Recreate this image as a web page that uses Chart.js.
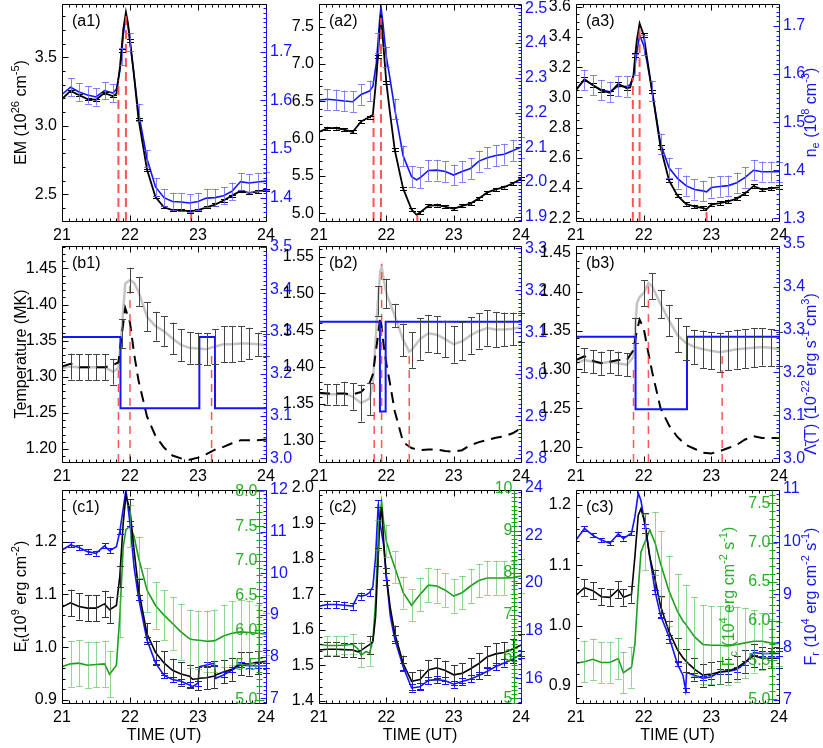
<!DOCTYPE html>
<html>
<head>
<meta charset="utf-8">
<script src="https://cdn.jsdelivr.net/npm/chart.js@4.4.1/dist/chart.umd.min.js"></script>
<style>
  body { margin: 0; background: #fff; }
  #wrap { position: relative; width: 823px; height: 748px; }
  #wrap canvas { position: absolute; left: 0; top: 0; }
</style>
</head>
<body>
<div id="wrap"></div>
<script>
// ---------- data (hours UT) ----------
const hours = [21, 22, 23, 24];

// (a1) EM and density
const a1Time = [21.0, 21.125, 21.25, 21.375, 21.5, 21.625, 21.75, 21.8, 21.85, 21.875, 21.9, 21.94, 21.97, 22.0, 22.05, 22.125, 22.25, 22.375, 22.5, 22.625, 22.75, 22.875, 23.0, 23.125, 23.25, 23.375, 23.5, 23.625, 23.75, 23.875, 24.0];
const a1EM = [3.195, 3.255, 3.225, 3.195, 3.19, 3.24, 3.215, 3.235, 3.42, 3.55, 3.70, 3.83, 3.75, 3.62, 3.41, 3.05, 2.68, 2.48, 2.405, 2.385, 2.385, 2.375, 2.385, 2.405, 2.425, 2.455, 2.49, 2.525, 2.51, 2.52, 2.53];
const a1EMErr = [null, .008, .008, .008, .008, .008, .008, null, null, .01, null, null, null, .01, null, .01, .008, .008, .008, .008, .008, .008, .008, .008, .008, .008, .008, .008, .008, .008, .008];
const a1Ne = [1.612, 1.627, 1.617, 1.611, 1.607, 1.62, 1.615, 1.623, 1.66, 1.69, 1.735, 1.771, 1.755, 1.72, 1.662, 1.575, 1.48, 1.422, 1.40, 1.392, 1.391, 1.389, 1.392, 1.399, 1.40, 1.404, 1.413, 1.433, 1.43, 1.432, 1.434];
const a1NeErr = [null, .018, .018, .018, .018, .018, .018, null, null, .018, null, null, null, .018, null, .018, .018, .018, .018, .018, .018, .018, .018, .018, .018, .018, .018, .018, .018, .018, .018];
const a1RedT = [21.83, 21.94, 22.9];
const a1RedTop = [3.33, 3.8, 2.37];

// (a2)
const a2Time = [21.0, 21.125, 21.25, 21.375, 21.5, 21.625, 21.75, 21.8, 21.85, 21.875, 21.9, 21.92, 21.95, 22.0, 22.05, 22.125, 22.25, 22.375, 22.45, 22.5, 22.625, 22.75, 22.875, 23.0, 23.125, 23.25, 23.375, 23.5, 23.625, 23.75, 23.875, 24.0];
const a2EM = [6.09, 6.14, 6.14, 6.12, 6.09, 6.23, 6.29, 6.32, 6.8, 7.1, 7.45, 7.66, 7.32, 6.75, 6.38, 5.85, 5.33, 5.05, 4.98, 5.01, 5.10, 5.11, 5.09, 5.06, 5.10, 5.13, 5.2, 5.28, 5.32, 5.35, 5.4, 5.46];
const a2EMErr = [null, .02, .02, .02, .02, .02, .02, null, null, .02, null, null, null, .02, null, .02, .02, .02, null, .02, .02, .02, .02, .02, .02, .02, .02, .02, .02, .02, .02, .02];
const a2Ne = [2.236, 2.238, 2.236, 2.233, 2.231, 2.252, 2.262, 2.275, 2.34, 2.40, 2.465, 2.505, 2.456, 2.36, 2.303, 2.21, 2.075, 2.015, 2.006, 2.012, 2.033, 2.034, 2.03, 2.02, 2.03, 2.039, 2.06, 2.07, 2.076, 2.08, 2.09, 2.10];
const a2NeErr = [null, .03, .03, .03, .03, .03, .03, null, null, .03, null, null, null, .03, null, .03, .03, .03, null, .03, .03, .03, .03, .03, .03, .03, .03, .03, .03, .03, .03, .03];
const a2RedT = [21.81, 21.92, 22.46];
const a2RedTop = [6.32, 7.62, 4.98];

// (a3)
const a3Time = [21.0, 21.125, 21.25, 21.375, 21.5, 21.625, 21.75, 21.8, 21.85, 21.875, 21.9, 21.94, 22.0, 22.05, 22.125, 22.25, 22.375, 22.5, 22.625, 22.75, 22.875, 22.93, 23.0, 23.125, 23.25, 23.375, 23.5, 23.625, 23.75, 23.875, 24.0];
const a3EM = [3.05, 3.12, 3.08, 3.045, 3.03, 3.09, 3.06, 3.066, 3.15, 3.28, 3.38, 3.49, 3.413, 3.26, 3.04, 2.67, 2.45, 2.35, 2.295, 2.278, 2.268, 2.26, 2.29, 2.30, 2.312, 2.33, 2.365, 2.414, 2.39, 2.398, 2.405];
const a3EMErr = [null, .012, .012, .012, .012, .012, .012, null, null, .012, null, null, .012, null, .012, .012, .012, .012, .012, .012, .012, null, .012, .012, .012, .012, .012, .012, .012, .012, .012];
const a3Ne = [1.567, 1.588, 1.577, 1.567, 1.563, 1.575, 1.574, 1.578, 1.595, 1.62, 1.645, 1.681, 1.66, 1.625, 1.565, 1.455, 1.405, 1.383, 1.368, 1.36, 1.357, 1.355, 1.364, 1.366, 1.368, 1.374, 1.385, 1.40, 1.397, 1.397, 1.397];
const a3NeErr = [null, .021, .021, .021, .021, .021, .021, null, null, .021, null, null, .021, null, .021, .021, .021, .021, .021, .021, .021, null, .021, .021, .021, .021, .021, .021, .021, .021, .021];
const a3RedT = [21.84, 21.94, 22.93];
const a3RedTop = [3.13, 3.47, 2.26];

// (b1) temperature and radiative loss function
const b1Time = [21.0, 21.125, 21.25, 21.375, 21.5, 21.625, 21.75, 21.83, 21.875, 21.93, 22.0, 22.06, 22.125, 22.25, 22.375, 22.5, 22.625, 22.75, 22.875, 23.0, 23.125, 23.25, 23.375, 23.5, 23.625, 23.75, 23.875, 24.0];
const b1TGray = [1.312, 1.314, 1.313, 1.313, 1.313, 1.313, 1.307, 1.312, 1.36, 1.429, 1.434, 1.43, 1.418, 1.383, 1.37, 1.363, 1.353, 1.344, 1.34, 1.339, 1.338, 1.342, 1.345, 1.345, 1.346, 1.346, 1.345, 1.344];
const b1TGrayErr = [null, .018, .018, .018, .018, .018, .018, null, .02, null, .017, null, .02, .02, .02, .021, .022, .022, .022, .022, .022, .024, .025, .025, .024, .022, .016, .015];
const b1TDash = [1.314, 1.318, 1.313, 1.313, 1.313, 1.313, 1.316, 1.32, 1.355, 1.395, 1.375, 1.332, 1.295, 1.245, 1.218, 1.202, 1.191, 1.187, 1.185, 1.188, 1.193, 1.199, 1.203, 1.208, 1.212, 1.212, 1.212, 1.213];
const b1LamT = [21, 21.86, 23.02, 23.25, 24];
const b1Lam = [3.287, 3.118, 3.287, 3.118, 3.118];
const b1RedT = [21.83, 22.0, 23.2];
const b1RedTop = [1.316, 1.432, 1.33];

// (b2)
const b2Time = [21.0, 21.125, 21.25, 21.375, 21.5, 21.625, 21.75, 21.8, 21.85, 21.875, 21.91, 21.93, 21.96, 22.0, 22.05, 22.125, 22.25, 22.34, 22.375, 22.5, 22.625, 22.75, 22.875, 23.0, 23.125, 23.25, 23.375, 23.5, 23.625, 23.75, 23.875, 24.0];
const b2TGray = [1.364, 1.363, 1.363, 1.364, 1.36, 1.351, 1.357, 1.378, 1.45, 1.49, 1.53, 1.536, 1.52, 1.50, 1.488, 1.47, 1.437, 1.421, 1.423, 1.438, 1.446, 1.444, 1.438, 1.431, 1.435, 1.443, 1.449, 1.453, 1.451, 1.451, 1.452, 1.454];
const b2TGrayErr = [null, .014, .014, .016, .018, .025, .022, null, null, .02, null, null, null, .02, null, .016, .022, null, .024, .028, .025, .025, .025, .025, .026, .025, .024, .024, .024, .023, .022, .02];
const b2TDash = [1.365, 1.364, 1.364, 1.364, 1.363, 1.366, 1.378, 1.39, 1.425, 1.442, 1.468, 1.455, 1.43, 1.405, 1.38, 1.34, 1.298, 1.292, 1.29, 1.287, 1.288, 1.288, 1.286, 1.285, 1.287, 1.294, 1.298, 1.301, 1.304, 1.306, 1.31, 1.317];
const b2LamT = [21, 21.905, 21.99, 24];
const b2Lam = [3.125, 2.911, 3.125, 3.125];
const b2RedT = [21.82, 21.93, 22.34];
const b2RedTop = [1.382, 1.54, 1.421];

// (b3)
const b3Time = [21.0, 21.125, 21.25, 21.375, 21.5, 21.625, 21.75, 21.85, 21.875, 21.9, 21.94, 22.0, 22.07, 22.125, 22.25, 22.375, 22.5, 22.625, 22.75, 22.875, 23.0, 23.125, 23.25, 23.375, 23.5, 23.625, 23.75, 23.875, 24.0];
const b3TGray = [1.308, 1.312, 1.31, 1.308, 1.31, 1.308, 1.306, 1.316, 1.35, 1.385, 1.393, 1.398, 1.411, 1.407, 1.384, 1.363, 1.344, 1.334, 1.329, 1.326, 1.324, 1.322, 1.324, 1.326, 1.327, 1.328, 1.329, 1.328, 1.326];
const b3TGrayErr = [null, .015, .015, .015, .015, .015, .015, null, .016, null, null, .017, null, .017, .018, .02, .022, .022, .022, .024, .024, .025, .025, .025, .025, .025, .024, .024, .022];
const b3TDash = [1.312, 1.317, 1.311, 1.308, 1.31, 1.312, 1.312, 1.325, 1.338, 1.35, 1.364, 1.353, 1.321, 1.297, 1.25, 1.228, 1.213, 1.203, 1.198, 1.193, 1.192, 1.195, 1.199, 1.203, 1.21, 1.214, 1.212, 1.212, 1.212];
const b3LamT = [21, 21.88, 22.64, 24];
const b3Lam = [3.283, 3.114, 3.283, 3.283];
const b3RedT = [21.85, 22.07, 23.16];
const b3RedTop = [1.306, 1.413, 1.32];

// (c1) thermal energy, conductive and radiative flux
const c1Time = [21.0, 21.125, 21.25, 21.375, 21.5, 21.625, 21.7, 21.8, 21.85, 21.9, 21.94, 22.0, 22.06, 22.125, 22.25, 22.375, 22.5, 22.625, 22.75, 22.875, 22.92, 23.0, 23.02, 23.125, 23.24, 23.26, 23.375, 23.5, 23.625, 23.75, 23.875, 24.0];
const c1Et = [1.076, 1.084, 1.077, 1.074, 1.074, 1.082, 1.071, 1.079, 1.134, 1.235, 1.288, 1.26, 1.184, 1.11, 1.025, 0.99, 0.97, 0.956, 0.949, 0.945, 0.939, 0.94, 0.941, 0.942, 0.945, 0.947, 0.953, 0.958, 0.969, 0.968, 0.971, 0.973];
const c1EtErr = [null, .025, .025, .025, .025, .025, .025, null, .02, null, null, .02, null, .02, .02, .022, .022, .022, .022, .022, null, .022, null, .022, .022, null, .022, .022, .022, .022, .022, .022];
const c1Fc = [5.48, 5.52, 5.53, 5.50, 5.51, 5.52, 5.37, 5.5, 6.2, 7.2, 7.45, 7.5, 7.35, 7.05, 6.58, 6.36, 6.22, 6.1, 5.98, 5.88, 5.87, 5.86, 5.86, 5.845, 5.85, 5.86, 5.92, 5.96, 5.98, 5.97, 5.96, 5.95];
const c1FcErr = [null, .33, .33, .33, .33, .33, .33, null, .3, null, null, .3, null, .3, .32, .34, .36, .38, .4, .42, null, .42, null, .44, .45, null, .45, .46, .46, .46, .4, .3];
const c1Fr = [10.56, 10.68, 10.62, 10.52, 10.48, 10.66, 10.54, 10.64, 11.0, 11.55, 12.0, 11.2, 10.15, 9.42, 8.40, 7.85, 7.55, 7.45, 7.41, 7.32, 7.28, 7.36, 7.76, 7.8, 7.84, 7.48, 7.56, 7.68, 7.80, 7.78, 7.78, 7.78];
const c1FrErr = [null, .06, .06, .06, .06, .06, .06, null, .06, null, null, .06, null, .06, .06, .06, .06, .06, .06, .06, null, .06, null, .06, .06, null, .06, .06, .06, .06, .06, .06];

// (c2)
const c2Time = [21.0, 21.125, 21.25, 21.375, 21.5, 21.58, 21.625, 21.7, 21.75, 21.8, 21.84, 21.88, 21.9, 21.93, 21.96, 22.0, 22.06, 22.125, 22.25, 22.375, 22.5, 22.625, 22.75, 22.875, 23.0, 23.125, 23.25, 23.375, 23.5, 23.625, 23.75, 23.875, 24.0];
const c2Et = [1.543, 1.545, 1.545, 1.544, 1.543, 1.538, 1.542, 1.552, 1.558, 1.566, 1.637, 1.806, 1.90, 1.945, 1.85, 1.75, 1.66, 1.59, 1.505, 1.455, 1.46, 1.487, 1.493, 1.485, 1.473, 1.477, 1.49, 1.505, 1.524, 1.532, 1.536, 1.545, 1.557];
const c2EtErr = [null, .02, .02, .02, .02, null, .022, null, .025, null, null, .025, null, null, null, .025, null, .022, .022, .025, .028, .028, .028, .028, .028, .028, .03, .03, .03, .03, .03, .03, .03];
const c2Fc = [6.29, 6.26, 6.26, 6.27, 6.29, 6.18, 6.03, 6.12, 6.08, 6.38, 7.3, 8.9, 9.3, 9.69, 9.2, 8.75, 8.43, 8.13, 7.52, 7.22, 7.48, 7.7, 7.68, 7.58, 7.44, 7.52, 7.68, 7.81, 7.87, 7.87, 7.87, 7.88, 7.92];
const c2FcErr = [null, .22, .22, .22, .24, null, .28, null, .3, null, null, .35, null, null, null, .38, null, .38, .38, .38, .4, .4, .4, .4, .4, .4, .4, .4, .4, .4, .4, .4, .4];
const c2Fr = [19.03, 19.1, 19.1, 19.07, 19.03, 19.49, 19.45, 19.5, 19.6, 19.84, 21.09, 23.33, 22.6, 22.1, 21.6, 20.26, 18.6, 17.65, 16.49, 15.6, 15.65, 15.92, 15.95, 15.9, 15.76, 15.87, 15.98, 16.12, 16.3, 16.5, 16.65, 16.8, 17.02];
const c2FrErr = [null, .15, .15, .15, .15, null, .15, null, .15, null, null, .15, null, null, null, .15, null, .15, .15, .15, .15, .15, .15, .15, .15, .15, .15, .15, .15, .15, .15, .15, .15];

// (c3)
const c3Time = [21.0, 21.125, 21.25, 21.375, 21.5, 21.625, 21.7, 21.82, 21.87, 21.92, 21.96, 22.02, 22.09, 22.17, 22.25, 22.375, 22.5, 22.58, 22.62, 22.635, 22.75, 22.875, 23.0, 23.125, 23.25, 23.375, 23.5, 23.625, 23.75, 23.875, 24.0];
const c3Et = [1.05, 1.063, 1.058, 1.048, 1.047, 1.06, 1.047, 1.052, 1.114, 1.183, 1.194, 1.17, 1.114, 1.076, 1.032, 0.99, 0.96, 0.947, 0.942, 0.94, 0.928, 0.918, 0.92, 0.923, 0.925, 0.93, 0.94, 0.95, 0.946, 0.946, 0.946];
const c3EtErr = [null, .014, .014, .014, .014, .014, .014, .014, null, null, null, .016, null, .017, .018, .018, .019, null, .019, null, .019, .019, .019, .019, .019, .019, .019, .019, .018, .017, .017];
const c3Fc = [5.46, 5.48, 5.51, 5.47, 5.47, 5.52, 5.34, 5.41, 5.7, 6.4, 6.88, 7.01, 7.16, 6.99, 6.73, 6.38, 6.12, 6.0, 5.96, 5.94, 5.8, 5.70, 5.69, 5.69, 5.68, 5.70, 5.72, 5.74, 5.74, 5.72, 5.71];
const c3FcErr = [null, .26, .26, .26, .26, .26, .26, .26, null, null, null, .36, null, .4, .42, .45, .48, null, .5, null, .5, .5, .5, .5, .5, .48, .45, .4, .36, .3, .28];
const c3Fr = [10.03, 10.25, 10.12, 10.03, 9.97, 10.15, 10.06, 10.16, 10.47, 10.92, 10.78, 10.3, 9.72, 9.05, 8.6, 8.2, 7.68, 7.47, 7.19, 7.52, 7.47, 7.41, 7.44, 7.54, 7.54, 7.58, 7.7, 7.9, 7.88, 7.88, 7.88];
const c3FrErr = [null, .04, .04, .04, .04, .04, .04, .04, null, null, null, .04, null, .04, .04, .04, .04, null, .04, null, .04, .04, .04, .04, .04, .04, .04, .04, .04, .04, .04];

// axis tick values
const a1EMTicks = [2.5, 3.0, 3.5], a1NeTicks = [1.4, 1.5, 1.6, 1.7];
const a2EMTicks = [5.0, 5.5, 6.0, 6.5, 7.0, 7.5], a2NeTicks = [1.9, 2.0, 2.1, 2.2, 2.3, 2.4, 2.5];
const a3EMTicks = [2.2, 2.4, 2.6, 2.8, 3.0, 3.2, 3.4, 3.6], a3NeTicks = [1.3, 1.4, 1.5, 1.6, 1.7];
const b1TTicks = [1.20, 1.25, 1.30, 1.35, 1.40, 1.45], b1LamTicks = [3.0, 3.1, 3.2, 3.3, 3.4, 3.5];
const b2TTicks = [1.30, 1.35, 1.40, 1.45, 1.50, 1.55], b2LamTicks = [2.8, 2.9, 3.0, 3.1, 3.2, 3.3];
const b3TTicks = [1.20, 1.25, 1.30, 1.35, 1.40, 1.45], b3LamTicks = [3.0, 3.1, 3.2, 3.3, 3.4, 3.5];
const c1EtTicks = [0.9, 1.0, 1.1, 1.2], c1FcTicks = [5.0, 5.5, 6.0, 6.5, 7.0, 7.5, 8.0], c1FrTicks = [7, 8, 9, 10, 11, 12];
const c2EtTicks = [1.4, 1.5, 1.6, 1.7, 1.8, 1.9, 2.0], c2FcTicks = [5, 6, 7, 8, 9, 10], c2FrTicks = [16, 18, 20, 22, 24];
const c3EtTicks = [0.9, 1.0, 1.1, 1.2], c3FcTicks = [5.0, 5.5, 6.0, 6.5, 7.0, 7.5], c3FrTicks = [7, 8, 9, 10, 11];

// ---------- drawing ----------
const FONT = '"Liberation Sans", Arial, Helvetica, sans-serif';
const BLUE = '#1414ff', GREEN = '#1e9e1e', GREEN_TXT = '#27b027', RED = 'rgba(255,70,70,0.92)';
const BLUE_ERR = 'rgba(100,100,255,0.8)', GRAY_ERR = '#444', GREEN_ERR = 'rgba(70,190,70,0.6)';
const COLS = [{ l: 62, r: 266 }, { l: 319, r: 521 }, { l: 576, r: 779 }];
const ROWS = [{ t: 4, b: 221 }, { t: 246, b: 462 }, { t: 490, b: 703 }];
const W = 823, H = 748;

const pts = (t, v) => t.map((x, i) => ({ x, y: v[i] }));

const sup = s => [s, 'sup'], sub = s => [s, 'sub'], txt = s => [s, 'n'];
const T_EM = [txt('EM (10'), sup('26'), txt(' cm'), sup('-5'), txt(')')];
const T_TEMP = [txt('Temperature (MK)')];
const T_ET = [txt('E'), sub('t'), txt('(10'), sup('9'), txt(' erg cm'), sup('-2'), txt(')')];
const T_NE = [txt('n'), sub('e'), txt(' (10'), sup('8'), txt(' cm'), sup('-3'), txt(')')];
const T_LAM = [txt('\u039B\u0304(T) (10'), sup('-22'), txt(' erg s'), sup('-1'), txt(' cm'), sup('3'), txt(')')];
const T_FR = [txt('F'), sub('r'), txt(' (10'), sup('4'), txt(' erg cm'), sup('-2'), txt(' s'), sup('-1'), txt(')')];
const T_FC = [txt('F'), sub('c'), txt(' (10'), sup('4'), txt(' erg cm'), sup('-2'), txt(' s'), sup('-1'), txt(')')];
const T_TIME = [txt('TIME (UT)')];

function rich(ctx, parts, x, y, rot, color) {
  ctx.save();
  ctx.translate(x, y);
  ctx.rotate(rot);
  ctx.fillStyle = color;
  ctx.textBaseline = 'middle';
  ctx.textAlign = 'left';
  const fontOf = k => (k === 'n' ? '16px ' : '11px ') + FONT;
  let w = 0;
  for (const [s, k] of parts) { ctx.font = fontOf(k); w += ctx.measureText(s).width; }
  let cx = -w / 2;
  for (const [s, k] of parts) {
    ctx.font = fontOf(k);
    const dy = k === 'sup' ? -6 : k === 'sub' ? 4 : 0;
    ctx.fillText(s, cx, dy);
    cx += ctx.measureText(s).width;
  }
  ctx.restore();
}

function tickSet(scale, vals, minor) {
  const st = (vals[1] - vals[0]) / minor, out = [];
  const k0 = Math.ceil((scale.min - vals[0]) / st - 1e-6);
  const k1 = Math.floor((scale.max - vals[0]) / st + 1e-6);
  for (let k = k0; k <= k1; k++) out.push({ v: vals[0] + k * st, major: k % minor === 0 });
  return out;
}

function seg(ctx, color, x1, y1, x2, y2) {
  ctx.strokeStyle = color;
  ctx.beginPath();
  ctx.moveTo(x1, y1);
  ctx.lineTo(x2, y2);
  ctx.stroke();
}

const px = v => Math.round(v) + 0.5;

function makeDeco(p) {
  return {
    id: 'deco',
    afterDatasetsDraw(chart) {
      const ctx = chart.ctx, xs = chart.scales.x;
      chart.data.datasets.forEach(ds => {
        if (!ds.errs) return;
        const ys = chart.scales[ds.yAxisID];
        ctx.save();
        ctx.lineWidth = 1;
        ctx.strokeStyle = ds.errColor;
        ds.data.forEach((d, i) => {
          const e = ds.errs[i];
          if (e == null) return;
          const x = px(xs.getPixelForValue(d.x));
          const y1 = ys.getPixelForValue(d.y - e), y2 = ys.getPixelForValue(d.y + e);
          ctx.beginPath();
          ctx.moveTo(x, y1); ctx.lineTo(x, y2);
          ctx.moveTo(x - 3.5, px(y1)); ctx.lineTo(x + 3.5, px(y1));
          ctx.moveTo(x - 3.5, px(y2)); ctx.lineTo(x + 3.5, px(y2));
          ctx.stroke();
        });
        ctx.restore();
      });
    },
    afterDraw(chart) {
      const ctx = chart.ctx;
      const { left: L, right: R, top: T, bottom: B } = chart.chartArea;
      const sx = chart.scales.x, sy = chart.scales.y, sy2 = chart.scales.y2;
      ctx.save();
      ctx.lineWidth = 1;
      const l = px(L), r = px(R), t = px(T), b = px(B);
      seg(ctx, '#000', l, t, r, t);
      seg(ctx, '#000', l, b, r, b);
      seg(ctx, '#000', l, t, l, b);
      seg(ctx, BLUE, r, t, r, b);
      tickSet(sx, hours, 10).forEach(k => {
        const x = px(sx.getPixelForValue(k.v)), len = k.major ? 6 : 3;
        seg(ctx, '#000', x, b, x, b - len);
        seg(ctx, '#000', x, t, x, t + len);
      });
      tickSet(sy, p.y.ticks, p.y.minor).forEach(k => {
        const y = px(sy.getPixelForValue(k.v));
        seg(ctx, '#000', l, y, l + (k.major ? 6 : 3), y);
      });
      tickSet(sy2, p.y2.ticks, p.y2.minor).forEach(k => {
        const y = px(sy2.getPixelForValue(k.v));
        seg(ctx, BLUE, r, y, r - (k.major ? 6 : 3), y);
      });
      if (p.y3) {
        const sy3 = chart.scales.y3, gx = px(R - 7);
        seg(ctx, GREEN, gx, t, gx, b);
        tickSet(sy3, p.y3.ticks, p.y3.minor).forEach(k => {
          const y = px(sy3.getPixelForValue(k.v)), len = k.major ? 5 : 3;
          seg(ctx, GREEN, gx - len, y, gx + len, y);
        });
        ctx.fillStyle = GREEN_TXT;
        ctx.font = '16px ' + FONT;
        ctx.textAlign = 'right';
        ctx.textBaseline = 'middle';
        p.y3.ticks.forEach(v => {
          ctx.fillText(v.toFixed(p.y3.dec), gx - 2, sy3.getPixelForValue(v));
        });
      }
      // panel label
      ctx.fillStyle = '#000';
      ctx.font = '16px ' + FONT;
      ctx.textAlign = 'left';
      ctx.textBaseline = 'middle';
      ctx.fillText(p.name, L + 10, T + 18);
      // axis titles
      const cy = (T + B) / 2;
      (p.titles || []).forEach(tt => {
        if (tt.side === 'bottom') rich(ctx, tt.parts, (L + R) / 2, B + tt.dy, 0, tt.color);
        else {
          const x = tt.side === 'left' ? L + tt.dx : R + tt.dx;
          rich(ctx, tt.parts, x, cy + (tt.dy || 0), -Math.PI / 2, tt.color);
        }
      });
      ctx.restore();
    }
  };
}

function yAxis(a, pos, color) {
  return {
    type: 'linear', position: pos, min: a.min, max: a.max,
    afterBuildTicks: s => { s.ticks = a.ticks.map(v => ({ value: v })); },
    afterFit: s => { s.width = pos === 'left' ? 45 : 40; s.paddingTop = 0; s.paddingBottom = 0; },
    ticks: { color, font: { family: FONT, size: 16 }, padding: pos === 'left' ? 5 : 4, autoSkip: false, callback: v => v.toFixed(a.dec) },
    grid: { display: false, drawTicks: false },
    border: { display: false }
  };
}

function line(t, v, axis, color, width, extra) {
  return Object.assign({
    data: pts(t, v), yAxisID: axis, borderColor: color, borderWidth: width,
    pointRadius: 0, fill: false, tension: 0
  }, extra || {});
}

function redLines(rt, top, yMin, rowB) {
  return rt.map((t, i) => line([t, t], [yMin, top[i]], 'y', RED, rowB ? 1.5 : 2, { borderDash: rowB ? [8, 6] : [9, 5] }));
}

const panels = [
  { col: 0, row: 0, name: '(a1)',
    y: { min: 2.305, max: 3.889, ticks: a1EMTicks, dec: 1, minor: 5 },
    y2: { min: 1.352, max: 1.798, ticks: a1NeTicks, dec: 1, minor: 10 },
    sets: [
      ...redLines(a1RedT, a1RedTop, 2.305),
      line(a1Time, a1EM, 'y', '#000', 1.8, { errs: a1EMErr, errColor: '#000' }),
      line(a1Time, a1Ne, 'y2', BLUE, 1.6, { errs: a1NeErr, errColor: BLUE_ERR })
    ],
    titles: [{ side: 'left', dx: -40, parts: T_EM, color: '#000' }] },
  { col: 1, row: 0, name: '(a2)',
    y: { min: 4.897, max: 7.804, ticks: a2EMTicks, dec: 1, minor: 5 },
    y2: { min: 1.8876, max: 2.5125, ticks: a2NeTicks, dec: 1, minor: 10 },
    sets: [
      ...redLines(a2RedT, a2RedTop, 4.897),
      line(a2Time, a2EM, 'y', '#000', 1.8, { errs: a2EMErr, errColor: '#000' }),
      line(a2Time, a2Ne, 'y2', BLUE, 1.6, { errs: a2NeErr, errColor: BLUE_ERR })
    ] },
  { col: 2, row: 0, name: '(a3)',
    y: { min: 2.182, max: 3.618, ticks: a3EMTicks, dec: 1, minor: 4 },
    y2: { min: 1.2944, max: 1.7458, ticks: a3NeTicks, dec: 1, minor: 10 },
    sets: [
      ...redLines(a3RedT, a3RedTop, 2.182),
      line(a3Time, a3EM, 'y', '#000', 1.8, { errs: a3EMErr, errColor: '#000' }),
      line(a3Time, a3Ne, 'y2', BLUE, 1.6, { errs: a3NeErr, errColor: BLUE_ERR })
    ],
    titles: [{ side: 'right', dx: 33, parts: T_NE, color: BLUE }] },
  { col: 0, row: 1, name: '(b1)',
    y: { min: 1.182, max: 1.481, ticks: b1TTicks, dec: 2, minor: 5 },
    y2: { min: 2.991, max: 3.502, ticks: b1LamTicks, dec: 1, minor: 10 },
    sets: [
      ...redLines(b1RedT, b1RedTop, 1.182, true),
      line(b1LamT, b1Lam, 'y2', BLUE, 2, { stepped: 'before' }),
      line(b1Time, b1TDash, 'y', '#000', 2, { borderDash: [11, 7] }),
      line(b1Time, b1TGray, 'y', '#c4c4c4', 2.5, { errs: b1TGrayErr, errColor: GRAY_ERR })
    ],
    titles: [{ side: 'left', dx: -40, parts: T_TEMP, color: '#000' }] },
  { col: 1, row: 1, name: '(b2)',
    y: { min: 1.271, max: 1.5645, ticks: b2TTicks, dec: 2, minor: 5 },
    y2: { min: 2.791, max: 3.305, ticks: b2LamTicks, dec: 1, minor: 10 },
    sets: [
      ...redLines(b2RedT, b2RedTop, 1.271, true),
      line(b2LamT, b2Lam, 'y2', BLUE, 2, { stepped: 'before' }),
      line(b2Time, b2TDash, 'y', '#000', 2, { borderDash: [11, 7] }),
      line(b2Time, b2TGray, 'y', '#c4c4c4', 2.5, { errs: b2TGrayErr, errColor: GRAY_ERR })
    ] },
  { col: 2, row: 1, name: '(b3)',
    y: { min: 1.181, max: 1.4587, ticks: b3TTicks, dec: 2, minor: 5 },
    y2: { min: 2.991, max: 3.495, ticks: b3LamTicks, dec: 1, minor: 10 },
    sets: [
      ...redLines(b3RedT, b3RedTop, 1.181, true),
      line(b3LamT, b3Lam, 'y2', BLUE, 2, { stepped: 'before' }),
      line(b3Time, b3TDash, 'y', '#000', 2, { borderDash: [11, 7] }),
      line(b3Time, b3TGray, 'y', '#c4c4c4', 2.5, { errs: b3TGrayErr, errColor: GRAY_ERR })
    ],
    titles: [{ side: 'right', dx: 33, dy: 20, parts: T_LAM, color: BLUE }] },
  { col: 0, row: 2, name: '(c1)',
    y: { min: 0.894, max: 1.298, ticks: c1EtTicks, dec: 1, minor: 5 },
    y2: { min: 6.887, max: 12.0, ticks: c1FrTicks, dec: 0, minor: 10 },
    y3: { min: 4.957, max: 8.02, ticks: c1FcTicks, dec: 1, minor: 5 },
    sets: [
      line(c1Time, c1Et, 'y', '#000', 1.6, { errs: c1EtErr, errColor: '#333' }),
      line(c1Time, c1Fr, 'y2', BLUE, 1.6, { errs: c1FrErr, errColor: BLUE }),
      line(c1Time, c1Fc, 'y3', GREEN, 1.6, { errs: c1FcErr, errColor: GREEN_ERR })
    ],
    titles: [{ side: 'left', dx: -40, parts: T_ET, color: '#000' }, { side: 'bottom', dy: 33, parts: T_TIME, color: '#000' }] },
  { col: 1, row: 2, name: '(c2)',
    y: { min: 1.3936, max: 1.994, ticks: c2EtTicks, dec: 1, minor: 5 },
    y2: { min: 14.97, max: 23.9, ticks: c2FrTicks, dec: 0, minor: 10 },
    y3: { min: 4.89, max: 9.97, ticks: c2FcTicks, dec: 0, minor: 10 },
    sets: [
      line(c2Time, c2Et, 'y', '#000', 1.6, { errs: c2EtErr, errColor: '#333' }),
      line(c2Time, c2Fr, 'y2', BLUE, 1.6, { errs: c2FrErr, errColor: BLUE }),
      line(c2Time, c2Fc, 'y3', GREEN, 1.6, { errs: c2FcErr, errColor: GREEN_ERR })
    ],
    titles: [{ side: 'bottom', dy: 33, parts: T_TIME, color: '#000' }] },
  { col: 2, row: 2, name: '(c3)',
    y: { min: 0.8718, max: 1.2249, ticks: c3EtTicks, dec: 1, minor: 5 },
    y2: { min: 6.943, max: 10.98, ticks: c3FrTicks, dec: 0, minor: 10 },
    y3: { min: 4.953, max: 7.67, ticks: c3FcTicks, dec: 1, minor: 5 },
    sets: [
      line(c3Time, c3Et, 'y', '#000', 1.6, { errs: c3EtErr, errColor: '#333' }),
      line(c3Time, c3Fr, 'y2', BLUE, 1.6, { errs: c3FrErr, errColor: BLUE }),
      line(c3Time, c3Fc, 'y3', GREEN, 1.6, { errs: c3FcErr, errColor: GREEN_ERR })
    ],
    titles: [{ side: 'right', dx: 33, parts: T_FR, color: BLUE }, { side: 'right', dx: -49, parts: T_FC, color: GREEN_TXT }, { side: 'bottom', dy: 33, parts: T_TIME, color: '#000' }] }
];

const wrap = document.getElementById('wrap');
panels.forEach(p => {
  const cv = document.createElement('canvas');
  cv.width = W; cv.height = H;
  wrap.appendChild(cv);
  const c = COLS[p.col], r = ROWS[p.row];
  const scales = {
    x: {
      type: 'linear', min: 21, max: 24, position: 'bottom',
      afterBuildTicks: s => { s.ticks = hours.map(v => ({ value: v })); },
      afterFit: s => { s.height = 25; s.paddingLeft = 0; s.paddingRight = 0; },
      ticks: { color: '#000', font: { family: FONT, size: 16 }, padding: 5, maxRotation: 0, autoSkip: false, callback: v => String(v) },
      grid: { display: false, drawTicks: false },
      border: { display: false }
    },
    y: yAxis(p.y, 'left', '#000'),
    y2: yAxis(p.y2, 'right', BLUE)
  };
  if (p.y3) scales.y3 = { type: 'linear', display: false, min: p.y3.min, max: p.y3.max };
  new Chart(cv, {
    type: 'line',
    data: { datasets: p.sets },
    options: {
      responsive: false,
      animation: false,
      events: [],
      layout: { padding: { left: c.l - 45, right: W - c.r - 40, top: r.t, bottom: H - r.b - 25 } },
      plugins: { legend: { display: false }, tooltip: { enabled: false } },
      scales
    },
    plugins: [makeDeco(p)]
  });
});
</script>
</body>
</html>
